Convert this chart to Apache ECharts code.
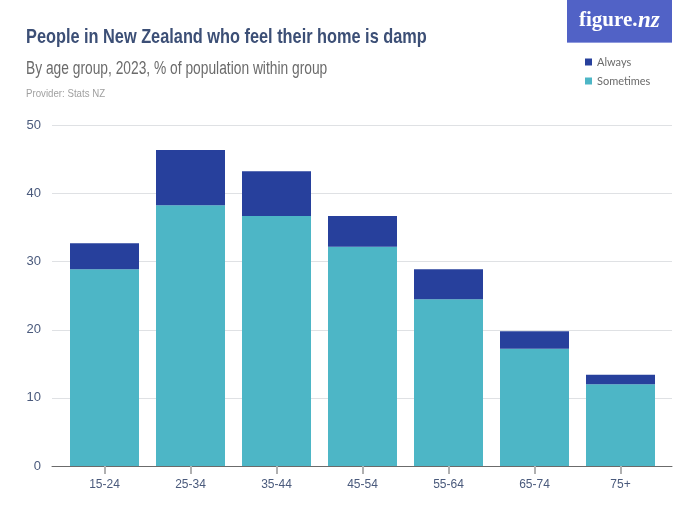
<!DOCTYPE html>
<html>
<head>
<meta charset="utf-8">
<style>
  html, body { margin: 0; padding: 0; background: #fff; }
  #chart { width: 700px; height: 525px; }
</style>
<script src="https://cdn.jsdelivr.net/npm/echarts@6/dist/echarts.min.js"></script>
</head>
<body>
<div id="chart"></div>
<script>
  var categories = ['15-24', '25-34', '35-44', '45-54', '55-64', '65-74', '75+'];
  var sometimes = [28.9, 38.3, 36.7, 32.2, 24.5, 17.2, 12.0];
  var always = [3.8, 8.1, 6.6, 4.5, 4.4, 2.6, 1.4];

  var font = '"Liberation Sans", sans-serif';
  var myChart = echarts.init(document.getElementById('chart'), null, { renderer: 'canvas' });

  // no condensed font installed, so headings are squeezed with scaleX
  function heading(text, y, scaleX, cssFont, color) {
    return { type: 'text', x: 26, y: y, scaleX: scaleX,
      style: { text: text, font: cssFont, fill: color, textVerticalAlign: 'middle' } };
  }

  myChart.setOption({
    animation: false,
    backgroundColor: '#fff',
    textStyle: { fontFamily: font },
    legend: {
      orient: 'vertical', left: 580, top: 49, itemWidth: 7, itemHeight: 7, itemGap: 3,
      icon: 'rect', data: ['Always', 'Sometimes'],
      textStyle: { fontFamily: 'Lato, sans-serif', fontSize: 11, color: '#6b6b6b', padding: [0, 0, 3, 0], lineHeight: 13 }
    },
    // first grid holds the long gridlines and baseline, second one the narrower bar bands
    grid: [
      { left: 52, right: 28, top: 125.5, bottom: 59 },
      { left: 61.5, right: 36.5, top: 125.5, bottom: 59 }
    ],
    xAxis: [
      { type: 'category', gridIndex: 0, data: categories,
        axisLine: { lineStyle: { color: '#6b6b6b', width: 1 } },
        axisTick: { show: false }, axisLabel: { show: false }, splitLine: { show: false } },
      { type: 'category', gridIndex: 1, data: categories,
        axisLine: { show: false },
        axisTick: { show: true, alignWithLabel: true, length: 8, lineStyle: { color: '#b0b0b0', width: 2 } },
        axisLabel: { fontFamily: font, fontSize: 12, color: '#4a5a7c', margin: 13 } }
    ],
    yAxis: [
      { type: 'value', gridIndex: 0, min: 0, max: 50, interval: 10,
        axisLine: { show: false }, axisTick: { show: false },
        axisLabel: { fontFamily: font, fontSize: 13, color: '#4a5a7c', margin: 11, padding: [0, 0, 6, 0] },
        splitLine: { lineStyle: { color: '#dfe1e4', width: 1 } } },
      { type: 'value', gridIndex: 1, min: 0, max: 50, interval: 10, show: false }
    ],
    series: [
      { name: 'Sometimes', type: 'bar', stack: 'damp', xAxisIndex: 1, yAxisIndex: 1,
        data: sometimes, barWidth: 69, itemStyle: { color: '#4db6c6' } },
      { name: 'Always', type: 'bar', stack: 'damp', xAxisIndex: 1, yAxisIndex: 1,
        data: always, barWidth: 69, itemStyle: { color: '#27409c' } }
    ],
    graphic: [
      heading('People in New Zealand who feel their home is damp', 37, 0.777, 'bold 21px "Liberation Sans"', '#3c4f76'),
      heading('By age group, 2023, % of population within group', 69, 0.766, '18px "Liberation Sans"', '#6b6b6b'),
      heading('Provider: Stats NZ', 94, 0.88, '11px "Liberation Sans"', '#a0a0a0'),
      { type: 'rect', x: 567, y: 0, shape: { width: 105, height: 42 }, style: { fill: '#5162c6' } },
      { type: 'rect', x: 567, y: 42, shape: { width: 105, height: 1 }, style: { fill: '#8f9ade' } },
      { type: 'text', x: 579, y: 21,
        style: { text: 'figure.', fill: '#fff', font: 'bold 21px "Liberation Serif", serif', textVerticalAlign: 'middle' } },
      { type: 'text', x: 638, y: 21,
        style: { text: 'nz', fill: '#fff', font: 'italic bold 23px "Liberation Serif", serif', textVerticalAlign: 'middle' } }
    ]
  });
</script>
</body>
</html>
